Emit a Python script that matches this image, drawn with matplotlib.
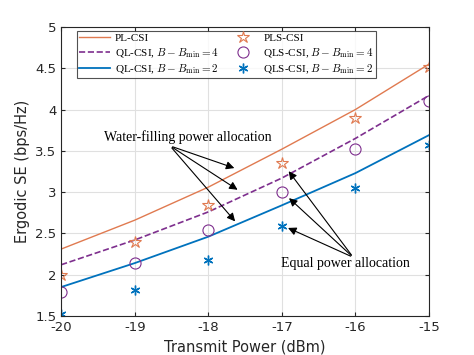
import matplotlib
matplotlib.use("Agg")
import matplotlib.pyplot as plt

plt.rcParams['mathtext.fontset'] = 'cm'

power = [-20, -19, -18, -17, -16, -15]
pl_csi = [2.31, 2.66, 3.06, 3.52, 4.00, 4.55]
ql_csi_4 = [2.12, 2.42, 2.76, 3.17, 3.65, 4.17]
ql_csi_2 = [1.85, 2.14, 2.46, 2.84, 3.23, 3.69]
pls_csi = [2.00, 2.40, 2.84, 3.35, 3.90, 4.52]
qls_csi_4 = [1.79, 2.14, 2.54, 3.00, 3.52, 4.10]
qls_csi_2 = [1.52, 1.82, 2.18, 2.59, 3.05, 3.57]

xticks = [-20, -19, -18, -17, -16, -15]
yticks = [1.5, 2, 2.5, 3, 3.5, 4, 4.5, 5]

c_or = '#E07A50'
c_pu = '#7E2F8E'
c_bl = '#0072BD'
serif = 'Liberation Serif'

fig = plt.figure(figsize=(4.74, 3.55), dpi=100)
ax = fig.add_axes([0.129, 0.110, 0.776, 0.814])

ax.plot(power, pl_csi, '-', color=c_or, lw=1.0, label='PL-CSI')
ax.plot(power, ql_csi_4, '--', color=c_pu, lw=1.2, label=r'QL-CSI, $B - B_{\min} = 4$')
ax.plot(power, ql_csi_2, '-', color=c_bl, lw=1.3, label=r'QL-CSI, $B - B_{\min} = 2$')
ax.plot(power, pls_csi, ls='none', marker='*', ms=9, mfc='none', mec=c_or, mew=0.8, label='PLS-CSI')
ax.plot(power, qls_csi_4, ls='none', marker='o', ms=8, mfc='none', mec=c_pu, mew=0.8, label=r'QLS-CSI, $B - B_{\min} = 4$')
ax.plot(power, qls_csi_2, ls='none', marker=(6, 2, 0), ms=7, mfc='none', mec=c_bl, mew=1.0, label=r'QLS-CSI, $B - B_{\min} = 2$')

ax.set_xlim(-20, -15)
ax.set_ylim(1.5, 5)
ax.set_xticks(xticks)
ax.set_yticks(yticks)
ax.set_xticklabels([str(t) for t in xticks])
ax.set_yticklabels(['1.5', '2', '2.5', '3', '3.5', '4', '4.5', '5'])
ax.grid(True, color='#e0e0e0', lw=0.8)
ax.set_axisbelow(True)
ax.tick_params(direction='in', labelsize=9.5, colors='#262626', top=True, right=True, length=3)
for s in ax.spines.values():
    s.set_color('#262626')
    s.set_linewidth(0.8)

ax.set_xlabel('Transmit Power (dBm)', fontsize=10.5, color='#262626')
ax.set_ylabel('Ergodic SE (bps/Hz)', fontsize=10.5, color='#262626')

leg = ax.legend(loc='upper left', ncol=2, bbox_to_anchor=(0.043, 0.985),
                prop={'family': serif, 'size': 8}, frameon=True, fancybox=False,
                edgecolor='#262626', handlelength=2.8, columnspacing=0.8,
                borderpad=0.2, labelspacing=0.22, handletextpad=0.4,
                borderaxespad=0.0)
leg.get_frame().set_linewidth(0.8)

ap = dict(arrowstyle='-|>', color='black', lw=0.8, mutation_scale=12)
ax.text(-18.28, 3.67, 'Water-filling power allocation', fontsize=10, family=serif, ha='center', va='center')
tail1 = (-18.52, 3.56)
ax.annotate('', xy=(-17.61, 3.28), xytext=tail1, arrowprops=ap)
ax.annotate('', xy=(-17.57, 3.01), xytext=tail1, arrowprops=ap)
ax.annotate('', xy=(-17.61, 2.62), xytext=tail1, arrowprops=ap)

ax.text(-16.13, 2.13, 'Equal power allocation', fontsize=10, family=serif, ha='center', va='center')
tail2 = (-16.03, 2.21)
ax.annotate('', xy=(-16.93, 3.28), xytext=tail2, arrowprops=ap)
ax.annotate('', xy=(-16.93, 2.95), xytext=tail2, arrowprops=ap)
ax.annotate('', xy=(-16.95, 2.58), xytext=tail2, arrowprops=ap)

fig.savefig('out.png', dpi=100)
